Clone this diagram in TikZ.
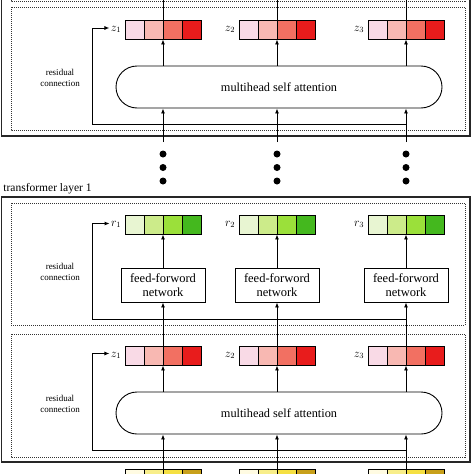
\documentclass[tikz,border=0pt]{standalone}
\usepackage{fontspec}
\setmainfont{Liberation Serif}
\usetikzlibrary{arrows.meta}
\definecolor{za}{HTML}{F9DAE6}
\definecolor{zb}{HTML}{F8B8B2}
\definecolor{zc}{HTML}{F27062}
\definecolor{zd}{HTML}{E81C1C}
\definecolor{ra}{HTML}{E8F5D2}
\definecolor{rb}{HTML}{CCEB8A}
\definecolor{rc}{HTML}{9BE03A}
\definecolor{rd}{HTML}{44B81E}
\definecolor{ya}{HTML}{FFFBE2}
\definecolor{yb}{HTML}{F8EE8A}
\definecolor{yc}{HTML}{F5E042}
\definecolor{yd}{HTML}{C8A01A}
\newcommand{\vecrow}[7]{%
  \node[vecbox] (#1) at (#2,#3) {};
  \foreach \cc [count=\ii from 0] in {#4,#5,#6,#7}
    \node[cell,fill=\cc,anchor=west] (#1-\ii) at ([xshift=\ii*19pt]#1.west) {};
}
\begin{document}
\begin{tikzpicture}[x=1pt,y=-1pt, line width=0.9pt,
  arr/.style={-{Latex[length=5pt,width=4pt]}},
  outer/.style={draw=black!85, line width=1.6pt},
  inner/.style={draw=black!80, line width=0.9pt, dash pattern=on 1pt off 1pt},
  vecbox/.style={draw, minimum width=76pt, minimum height=19pt, inner sep=0pt},
  cell/.style={draw, minimum width=19pt, minimum height=19pt, inner sep=0pt, line width=0.8pt},
  ffn/.style={draw, minimum width=84pt, minimum height=34pt, inner sep=0pt, align=center, font=\fontsize{12.5}{13.5}\selectfont},
  att/.style={draw, minimum width=326pt, minimum height=42pt, rounded corners=21pt, font=\fontsize{12.3}{13}\selectfont},
  lab/.style={font=\fontsize{12}{13}\selectfont, anchor=east, inner sep=1pt},
  res/.style={align=center, font=\fontsize{9}{11}\selectfont},
  dot/.style={circle, fill, inner sep=0pt, minimum size=7pt}]
\useasboundingbox (0,0) rectangle (474,474);
\clip (0,0) rectangle (474,474);

% frames
\draw[outer] (1.5,-10) rectangle (470,136);
\draw[outer] (1.5,197) rectangle (470,462);
\draw[inner] (11,-100) rectangle (465,1);
\draw[inner] (11,7) rectangle (465,130);
\draw[inner] (11,203) rectangle (465,325);
\draw[inner] (11,334) rectangle (465,457);

\node[anchor=west, font=\fontsize{11.5}{13}\selectfont, inner sep=0pt] (tl1) at (3,189) {transformer layer 1};

% ---------- top layer (attention) ----------
\vecrow{tz1}{163}{29.5}{za}{zb}{zc}{zd}
\vecrow{tz2}{277}{29.5}{za}{zb}{zc}{zd}
\vecrow{tz3}{406}{29.5}{za}{zb}{zc}{zd}
\node[lab] (tzl1) at ([xshift=-2pt]tz1.west) {$z_1$};
\node[lab] (tzl2) at ([xshift=-2pt]tz2.west) {$z_2$};
\node[lab] (tzl3) at ([xshift=-2pt]tz3.west) {$z_3$};
\node[att] (tatt) at (279,87) {multihead self attention};
\node[res] (tres) at (60,77.5) {residual\\connection};

\foreach \i in {1,2,3} {
  \coordinate (tt\i) at (tz\i |- 0,-10);
  \draw (tz\i.north) -- (tt\i);
  \draw[arr] (tz\i |- tatt.north) -- (tz\i.south);
  \coordinate (tin\i) at (tz\i |- 0,142);
  \draw[arr] (tin\i) -- (tz\i |- tatt.south);
  \node[dot] (da\i) at (tz\i |- 0,154) {};
  \node[dot] (db\i) at (tz\i |- 0,167.5) {};
  \node[dot] (dc\i) at (tz\i |- 0,181) {};
}
\coordinate (tr0) at (92,124);
\draw[arr] (tz3 |- tr0) -- (tr0) |- ([yshift=1.5pt]tzl1.west);

% ---------- layer 1: feed-forward ----------
\vecrow{r1}{163}{224.5}{ra}{rb}{rc}{rd}
\vecrow{r2}{277}{224.5}{ra}{rb}{rc}{rd}
\vecrow{r3}{406}{224.5}{ra}{rb}{rc}{rd}
\node[lab] (rl1) at ([xshift=-2pt]r1.west) {$r_1$};
\node[lab] (rl2) at ([xshift=-2pt]r2.west) {$r_2$};
\node[lab] (rl3) at ([xshift=-2pt]r3.west) {$r_3$};
\node[ffn] (f1) at (163,285) {feed-forword\\network};
\node[ffn] (f2) at (277,285) {feed-forword\\network};
\node[ffn] (f3) at (406,285) {feed-forword\\network};
\node[res] (fres) at (60,271.5) {residual\\connection};

% ---------- layer 1: attention ----------
\vecrow{z1}{163}{355.5}{za}{zb}{zc}{zd}
\vecrow{z2}{277}{355.5}{za}{zb}{zc}{zd}
\vecrow{z3}{406}{355.5}{za}{zb}{zc}{zd}
\node[lab] (zl1) at ([xshift=-2pt]z1.west) {$z_1$};
\node[lab] (zl2) at ([xshift=-2pt]z2.west) {$z_2$};
\node[lab] (zl3) at ([xshift=-2pt]z3.west) {$z_3$};
\node[att] (att) at (279,413) {multihead self attention};
\node[res] (ares) at (60,403.5) {residual\\connection};

\vecrow{x1}{163}{478.5}{ya}{yb}{yc}{yd}
\vecrow{x2}{277}{478.5}{ya}{yb}{yc}{yd}
\vecrow{x3}{406}{478.5}{ya}{yb}{yc}{yd}

\foreach \i in {1,2,3} {
  \draw[arr] (f\i.north) -- (r\i.south);
  \draw[arr] (z\i.north) -- (f\i.south);
  \draw[arr] (z\i |- att.north) -- (z\i.south);
  \draw[arr] (x\i.north) -- (x\i |- att.south);
}
\coordinate (fr0) at (92,319);
\draw[arr] (r3 |- fr0) -- (fr0) |- ([yshift=1pt]rl1.west);
\coordinate (ar0) at (92,450);
\draw[arr] (z3 |- ar0) -- (ar0) |- ([yshift=2pt]zl1.west);
\end{tikzpicture}
\end{document}
